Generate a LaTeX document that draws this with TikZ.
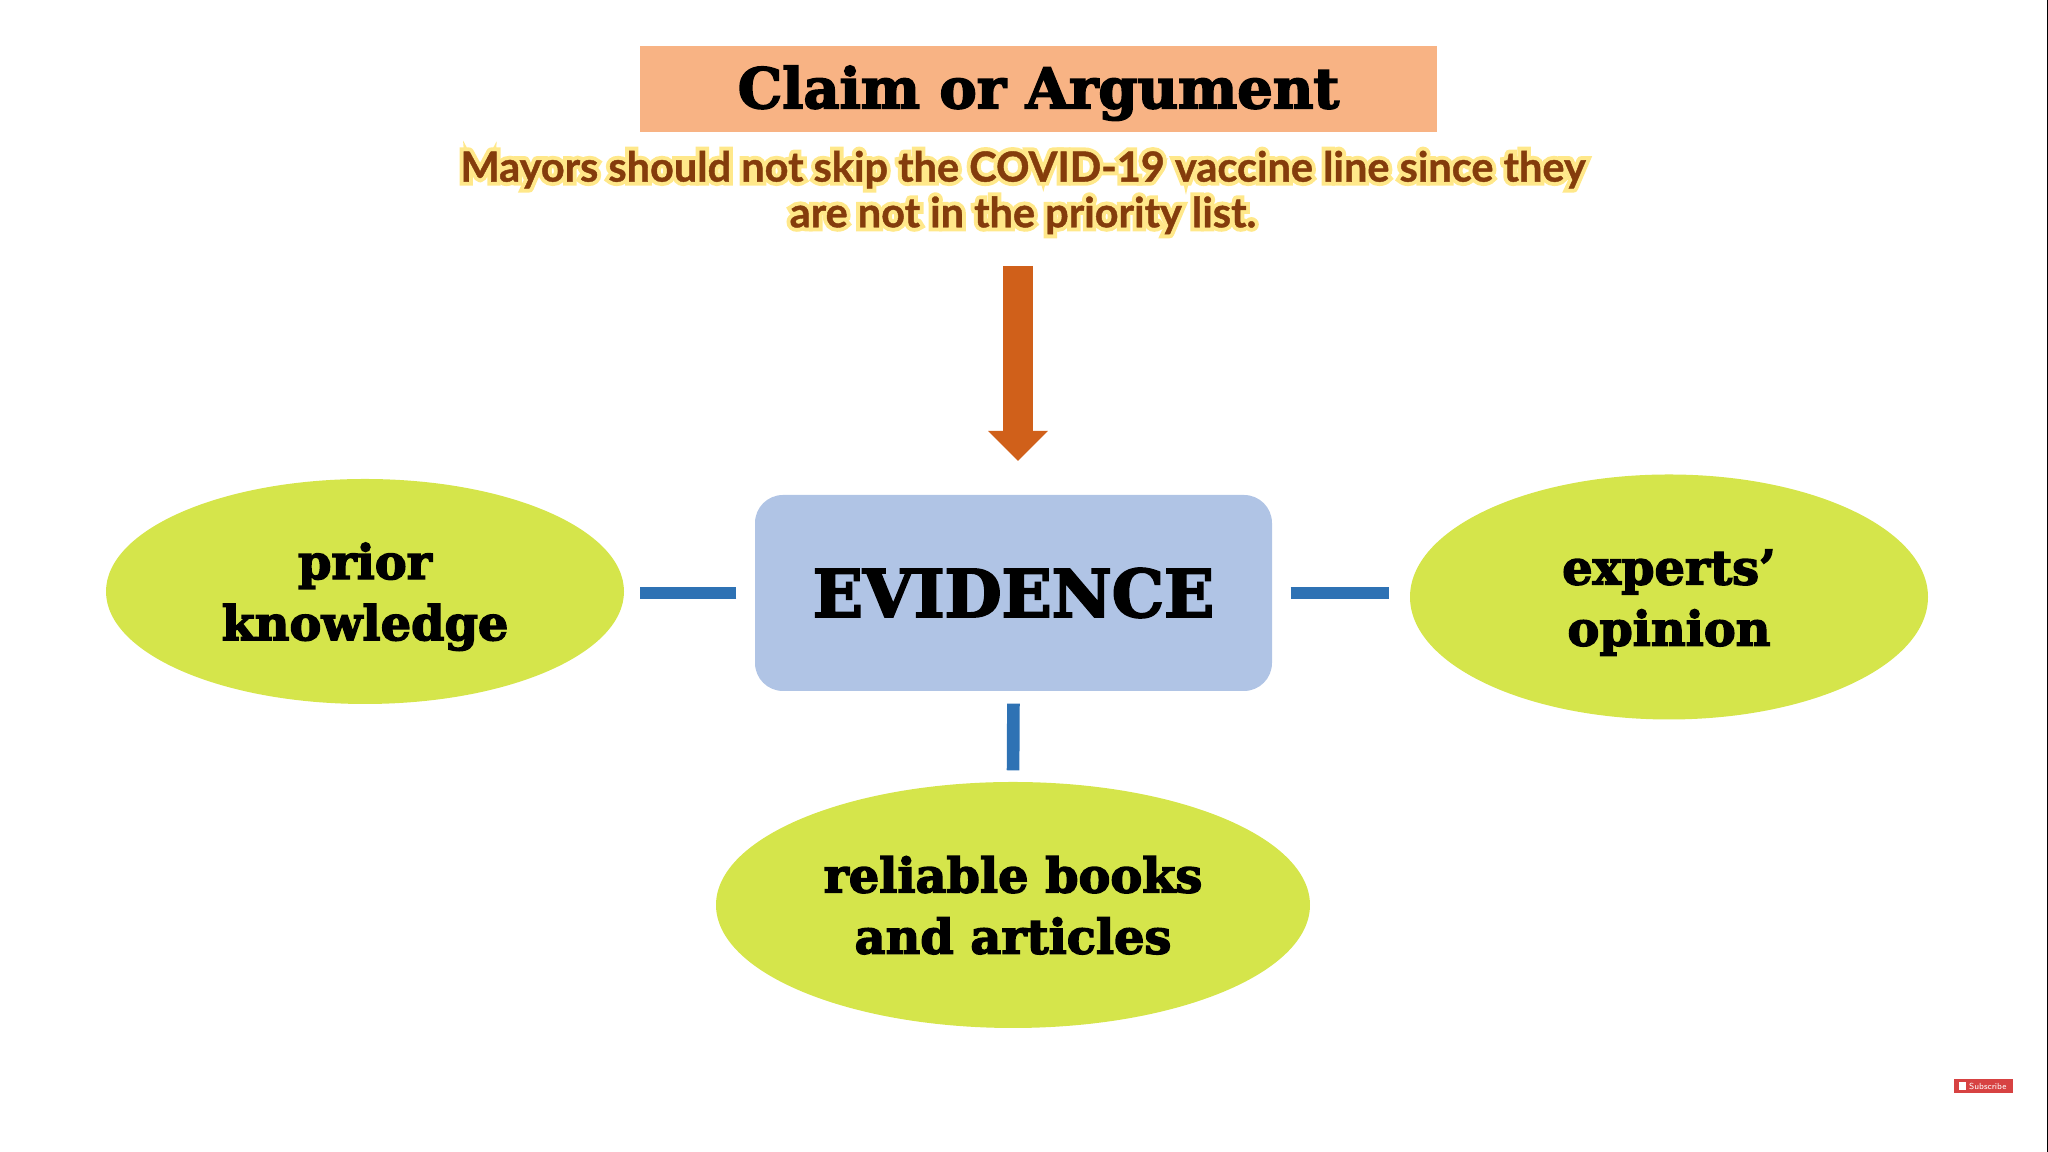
\documentclass[tikz,border=0pt]{standalone}
\usepackage{fontspec}
\usepackage{tikz}
\usetikzlibrary{arrows.meta, shapes.geometric}
\setmainfont[BoldFeatures={FakeBold=3}]{DejaVu Serif}
\newfontfamily\claimfont{Lato}
\definecolor{lime}{HTML}{D5E54B}
\definecolor{peach}{HTML}{F8B384}
\definecolor{paleblue}{HTML}{B0C4E5}
\definecolor{linkblue}{HTML}{2E72B4}
\definecolor{rust}{HTML}{D0601A}
\definecolor{claimbrown}{HTML}{843C0C}
\definecolor{glow}{HTML}{FFE88A}
\newcommand{\glowline}[1]{\rlap{\addfontfeature{FakeBold=20}\textcolor{glow}{#1}}{\addfontfeature{FakeBold=1}#1}}
\newcommand{\topline}{\rule{0pt}{13.8pt}}
\newcommand{\lastline}{\rule[-3.5pt]{0pt}{0pt}}

\begin{document}
\begin{tikzpicture}[
    source/.style={ellipse, fill=lime, inner sep=0pt, align=center,
      font=\fontsize{13.6}{17.4}\selectfont\bfseries},
    link/.style={draw=linkblue, line width=3.6pt}]
  \useasboundingbox (0,0) rectangle (20.48,11.52);
  \node (title) at (10.385,10.63) [fill=peach, minimum width=7.97cm, minimum height=0.86cm, inner sep=0pt, text depth=0.04cm, font=\fontsize{15.9}{20}\selectfont\bfseries] {Claim or Argument};
  \node (claim) at (10.23,9.595) [align=center, text=claimbrown, font=\fontsize{11.8}{13}\claimfont\bfseries] {\glowline{Mayors should not skip the COVID-19 vaccine line since they}\\ \glowline{are not in the priority list.}};
  \node (evidence) at (10.135,5.59) [fill=paleblue, rounded corners=0.28cm, minimum width=5.17cm, minimum height=1.96cm, inner sep=0pt, font=\fontsize{18.7}{20}\selectfont\bfseries] {EVIDENCE};
  \node (prior) at (3.65,5.605) [source, minimum width=5.18cm, minimum height=2.25cm] {\topline prior\\knowledge\lastline};
  \node (experts) at (16.69,5.55) [source, minimum width=5.18cm, minimum height=2.45cm] {\topline experts'\\opinion\lastline};
  \node (books) at (10.13,2.47) [source, minimum width=5.94cm, minimum height=2.46cm] {\topline reliable books\\and articles\lastline};
  % arrow from the claim down to the box
  \coordinate (arrowtop) at (10.18,8.86);
  \coordinate (arrowtip) at (10.18,6.91);
  \draw [draw=rust, line width=8.5pt, -{Triangle[length=0.3cm, width=0.58cm]}] (arrowtop) -- (arrowtip);
  \draw [link, shorten <=0.18cm, shorten >=0.15cm] (evidence.west) -- (prior.east |- evidence.west);
  \draw [link, shorten <=0.18cm, shorten >=0.20cm] (evidence.east) -- (experts.west |- evidence.east);
  \draw [link, shorten <=0.12cm, shorten >=0.11cm] (evidence.south) -- (books.north);
  % subscribe button
  \node (subscribe) at (19.835,0.66) [fill=red!65!gray!90!white, minimum width=0.59cm, minimum height=0.14cm, inner sep=0pt, text=white, font=\sffamily\fontsize{2.5}{3}\selectfont] {\phantom{xx}Subscribe};
  \fill [white] (19.59,0.62) rectangle (19.66,0.70);
  \fill [black] (20.465,0) rectangle (20.48,11.52);
\end{tikzpicture}
\end{document}
